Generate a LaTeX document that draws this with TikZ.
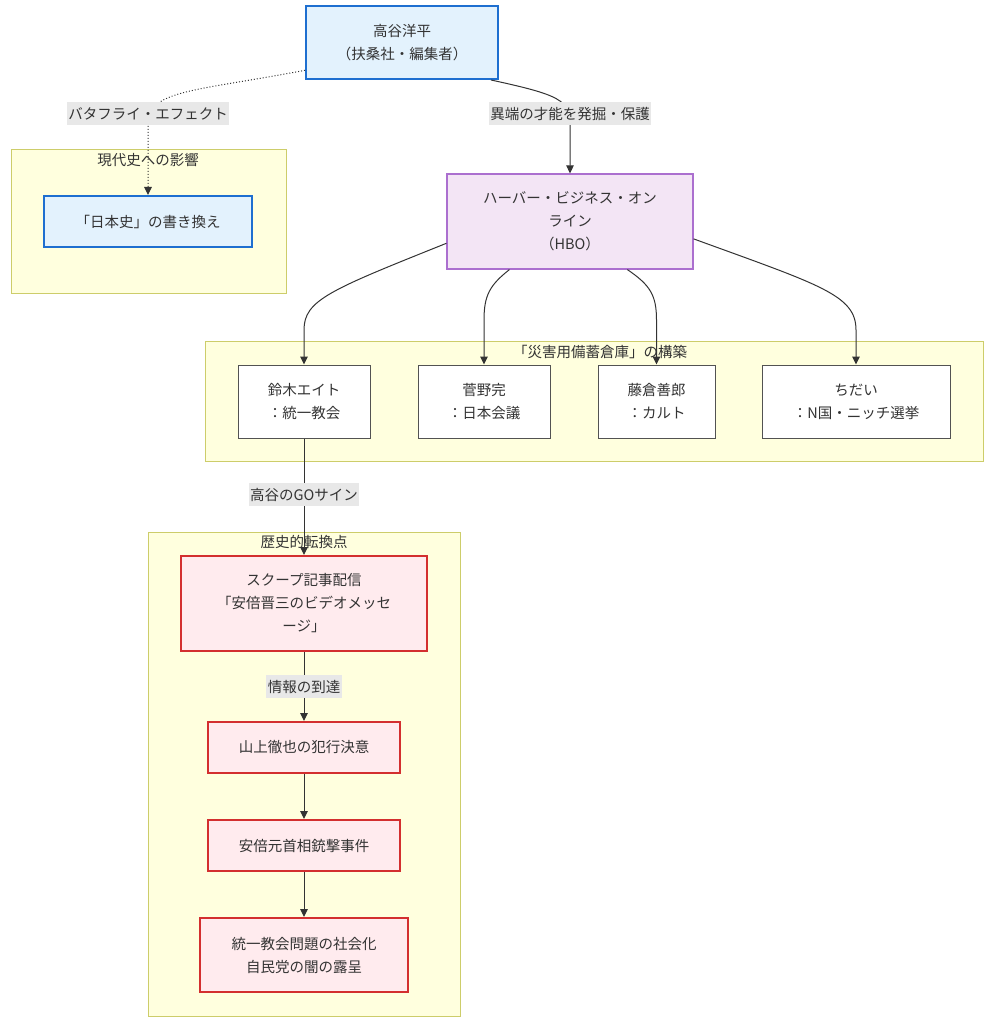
\documentclass[tikz,border=0pt]{standalone}
\usepackage{fontspec}
\setmainfont{Noto Sans CJK JP}
\usetikzlibrary{arrows.meta, positioning, calc}

\definecolor{ink}{HTML}{333333}
\definecolor{bluefill}{HTML}{E3F2FD}
\definecolor{blueline}{HTML}{1E6FD0}
\definecolor{purplefill}{HTML}{F3E5F5}
\definecolor{purpleline}{HTML}{AB6FCF}
\definecolor{redfill}{HTML}{FFEBEE}
\definecolor{redline}{HTML}{D32F2F}
\definecolor{groupfill}{HTML}{FFFFDE}
\definecolor{groupline}{HTML}{CDCD6A}
\definecolor{lblgray}{HTML}{E8E8E8}

\begin{document}
\begin{tikzpicture}[
  x=1pt, y=-1pt,
  base/.style={align=center, font=\fontsize{14.5}{23}\selectfont, text=ink, inner sep=0pt},
  bluebox/.style={base, draw=blueline, fill=bluefill, line width=2pt},
  hbobox/.style={base, draw=purpleline, fill=purplefill, line width=1.2pt},
  plainbox/.style={base, draw=ink!85, fill=white, line width=1pt},
  redbox/.style={base, draw=redline, fill=redfill, line width=2pt},
  group/.style={draw=groupline, fill=groupfill, line width=1pt},
  grouptitle/.style={base},
  lbl/.style={base, fill=lblgray, minimum height=23pt, inner xsep=1.5pt},
  flow/.style={draw=ink, line width=1pt, -{Triangle[length=8pt, width=7.5pt]}},
]
\useasboundingbox (0,0) rectangle (991,1024);

% Subgraph backgrounds
\draw[group] (11,150) rectangle (286,293);
\node[grouptitle] (g1) at (148,160) {現代史への影響};
\draw[group] (205,341) rectangle (983,461);
\node[grouptitle] (g2) at (600,352) {「災害用備蓄倉庫」の構築};
\draw[group] (148,532) rectangle (460,1016);
\node[grouptitle] (g3) at (304,542) {歴史的転換点};

% Nodes
\node[bluebox, minimum width=192pt, minimum height=73pt] (takaya) at (402,42.5) {高谷洋平\\（扶桑社・編集者）};
\node[bluebox, minimum width=208pt, minimum height=51pt] (rewrite) at (148,221.5) {「日本史」の書き換え};
\node[hbobox, minimum width=246pt, minimum height=95pt] (hbo) at (570,221.5) {ハーバー・ビジネス・オン\\ライン\\（HBO）};

\node[plainbox, minimum width=132pt, minimum height=73pt] (suzuki) at (304,401.5) {鈴木エイト\\：統一教会};
\node[plainbox, minimum width=132pt, minimum height=73pt] (kanno) at (484,401.5) {菅野完\\：日本会議};
\node[plainbox, minimum width=117pt, minimum height=73pt] (fujikura) at (656.5,401.5) {藤倉善郎\\：カルト};
\node[plainbox, minimum width=188pt, minimum height=73pt] (chidai) at (856,401.5) {ちだい\\：N国・ニッチ選挙};

\node[redbox, minimum width=246pt, minimum height=95pt] (scoop) at (304,603.5) {スクープ記事配信\\「安倍晋三のビデオメッセ\\ージ」};
\node[redbox, minimum width=192pt, minimum height=51pt] (yamagami) at (304,747.5) {山上徹也の犯行決意};
\node[redbox, minimum width=192pt, minimum height=51pt] (abe) at (304,845.5) {安倍元首相銃撃事件};
\node[redbox, minimum width=208pt, minimum height=74pt] (outcome) at (304,955) {統一教会問題の社会化\\自民党の闇の露呈};

% Connectors
\draw[flow, dotted] (takaya.196) .. controls (190,92) and (148,90) .. (148,125) -- (rewrite.north);
\node[lbl] (lbfly) at (148,114) {バタフライ・エフェクト};

\draw[flow] ($(takaya.south east)+(-8,0)$) .. controls (560,95) and (570,100) .. (570,125) -- (hbo.north);
\node[lbl] (lbfind) at (570,114) {異端の才能を発掘・保護};

\draw[flow] (hbo.190) .. controls (330,290) and (304,300) .. (304,330) -- (suzuki.north);
\draw[flow] ($(hbo.south west)+(63,0)$) .. controls (490,285) and (484,295) .. (484,320) -- (kanno.north);
\draw[flow] ($(hbo.south west)+(181,0)$) .. controls (650,285) and (656.5,295) .. (656.5,320) -- (fujikura.north);
\draw[flow] (hbo.-8) .. controls (820,285) and (856,295) .. (856,330) -- (chidai.north);

\draw[flow] (suzuki) -- (scoop) node[lbl, pos=0.483] (lbgo) {高谷のGOサイン};
\draw[flow] (scoop) -- (yamagami) node[lbl, pos=0.5] (lbinfo) {情報の到達};
\draw[flow] (yamagami) -- (abe);
\draw[flow] (abe) -- (outcome);

\end{tikzpicture}
\end{document}
